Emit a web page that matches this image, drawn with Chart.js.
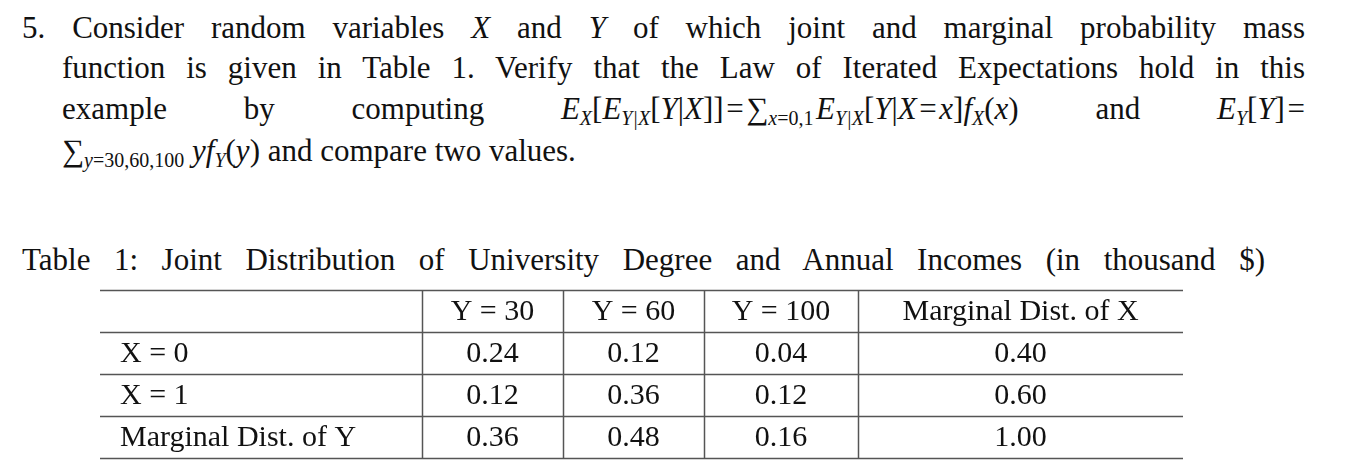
<!DOCTYPE html>
<html>
<head>
<meta charset="utf-8">
<script src="https://cdn.jsdelivr.net/npm/chart.js@4"></script>
<style>
  body { margin: 0; background: #fff; width: 1360px; height: 468px; overflow: hidden; }
  .ln { position: absolute; font-family: "Liberation Serif", serif; font-size: 31px; color: #111;
        white-space: nowrap; text-align: justify; text-align-last: justify; }
  .ln i { font-style: italic; }
  sub { font-size: 20px; vertical-align: -6px; line-height: 0; }
  #wrap { position: absolute; left: 100px; top: 286px; width: 1083px; height: 176px; }
</style>
</head>
<body>
<div class="ln" style="left:22px; top:10px; width:1283px;">5. Consider random variables <i>X</i> and <i>Y</i> of which joint and marginal probability mass</div>
<div class="ln" style="left:62px; top:50px; width:1243px;">function is given in Table 1. Verify that the Law of Iterated Expectations hold in this</div>
<div class="ln" style="left:62px; top:91px; width:1243px;">example by computing <i>E<sub>X</sub></i>[<i>E<sub>Y|X</sub></i>[<i>Y</i>|<i>X</i>]]&#8202;=&#8202;∑<sub><i>x</i>=0,1</sub>&#8202;<i>E<sub>Y|X</sub></i>[<i>Y</i>|<i>X</i>&#8202;=&#8202;<i>x</i>]<i>f<sub>X</sub></i>(<i>x</i>) and <i>E<sub>Y</sub></i>[<i>Y</i>]&#8202;=</div>
<div class="ln" style="left:62px; top:133px; text-align:left; text-align-last:left;">∑<sub><i>y</i>=30,60,100</sub> <i>yf<sub>Y</sub></i>(<i>y</i>) and compare two values.</div>
<div class="ln" style="left:22px; top:242px; width:1243px;">Table 1: Joint Distribution of University Degree and Annual Incomes (in thousand $)</div>
<div id="wrap"><canvas id="tbl"></canvas></div>
<script>
// Table data
const colHeaders = ['', 'Y = 30', 'Y = 60', 'Y = 100', 'Marginal Dist. of X'];
const rowLabels = ['X = 0', 'X = 1', 'Marginal Dist. of Y'];
const y30 = ['0.24', '0.12', '0.36'];
const y60 = ['0.12', '0.36', '0.48'];
const y100 = ['0.04', '0.12', '0.16'];
const margX = ['0.40', '0.60', '1.00'];

const rows = ['head'].concat(rowLabels);

// column boundaries in table units (layout only)
const edges = [0, 322, 463, 604, 758, 1083];

const tablePlugin = {
    id: 'tablePlugin',
    afterDraw(chart) {
        const ctx = chart.ctx;
        const xs = chart.scales.x, ys = chart.scales.y;
        const left = xs.getPixelForValue(0), right = xs.getPixelForValue(1083);
        const band = ys.getPixelForValue(1) - ys.getPixelForValue(0);
        const top = ys.getPixelForValue(0) - band / 2;
        const bottom = ys.getPixelForValue(rows.length - 1) + band / 2;
        ctx.save();
        ctx.strokeStyle = '#555';
        ctx.lineWidth = 1.5;
        // horizontal lines
        for (let r = 0; r <= rows.length; r++) {
            const y = Math.round(top + r * band) + 0.5;
            ctx.beginPath(); ctx.moveTo(left, y); ctx.lineTo(right, y); ctx.stroke();
        }
        // vertical separators
        for (let c = 1; c < edges.length - 1; c++) {
            const x = Math.round(xs.getPixelForValue(edges[c])) + 0.5;
            ctx.beginPath(); ctx.moveTo(x, top); ctx.lineTo(x, bottom); ctx.stroke();
        }
        ctx.fillStyle = '#111';
        ctx.font = '30px "Liberation Serif", serif';
        ctx.textBaseline = 'middle';
        const cols = [rowLabels, y30, y60, y100, margX];
        rows.forEach((r, ri) => {
            const cy = ys.getPixelForValue(ri) + 1;
            for (let c = 0; c < cols.length; c++) {
                const txt = ri === 0 ? colHeaders[c] : cols[c][ri - 1];
                if (c === 0) {
                    ctx.textAlign = 'left';
                    ctx.fillText(txt, left + 20, cy);
                } else {
                    ctx.textAlign = 'center';
                    const cx = (xs.getPixelForValue(edges[c]) + xs.getPixelForValue(edges[c + 1])) / 2;
                    ctx.fillText(txt, cx, cy);
                }
            }
        });
        ctx.restore();
    }
};

new Chart(document.getElementById('tbl'), {
    type: 'bar',
    data: { labels: rows, datasets: [] },
    options: {
        responsive: true,
        maintainAspectRatio: false,
        animation: false,
        layout: { padding: { top: 4, bottom: 4, left: 0, right: 0 } },
        plugins: { legend: { display: false }, tooltip: { enabled: false } },
        scales: {
            x: { type: 'linear', min: 0, max: 1083, display: false, offset: false },
            y: { type: 'category', display: false, offset: true }
        }
    },
    plugins: [tablePlugin]
});
</script>
</body>
</html>
